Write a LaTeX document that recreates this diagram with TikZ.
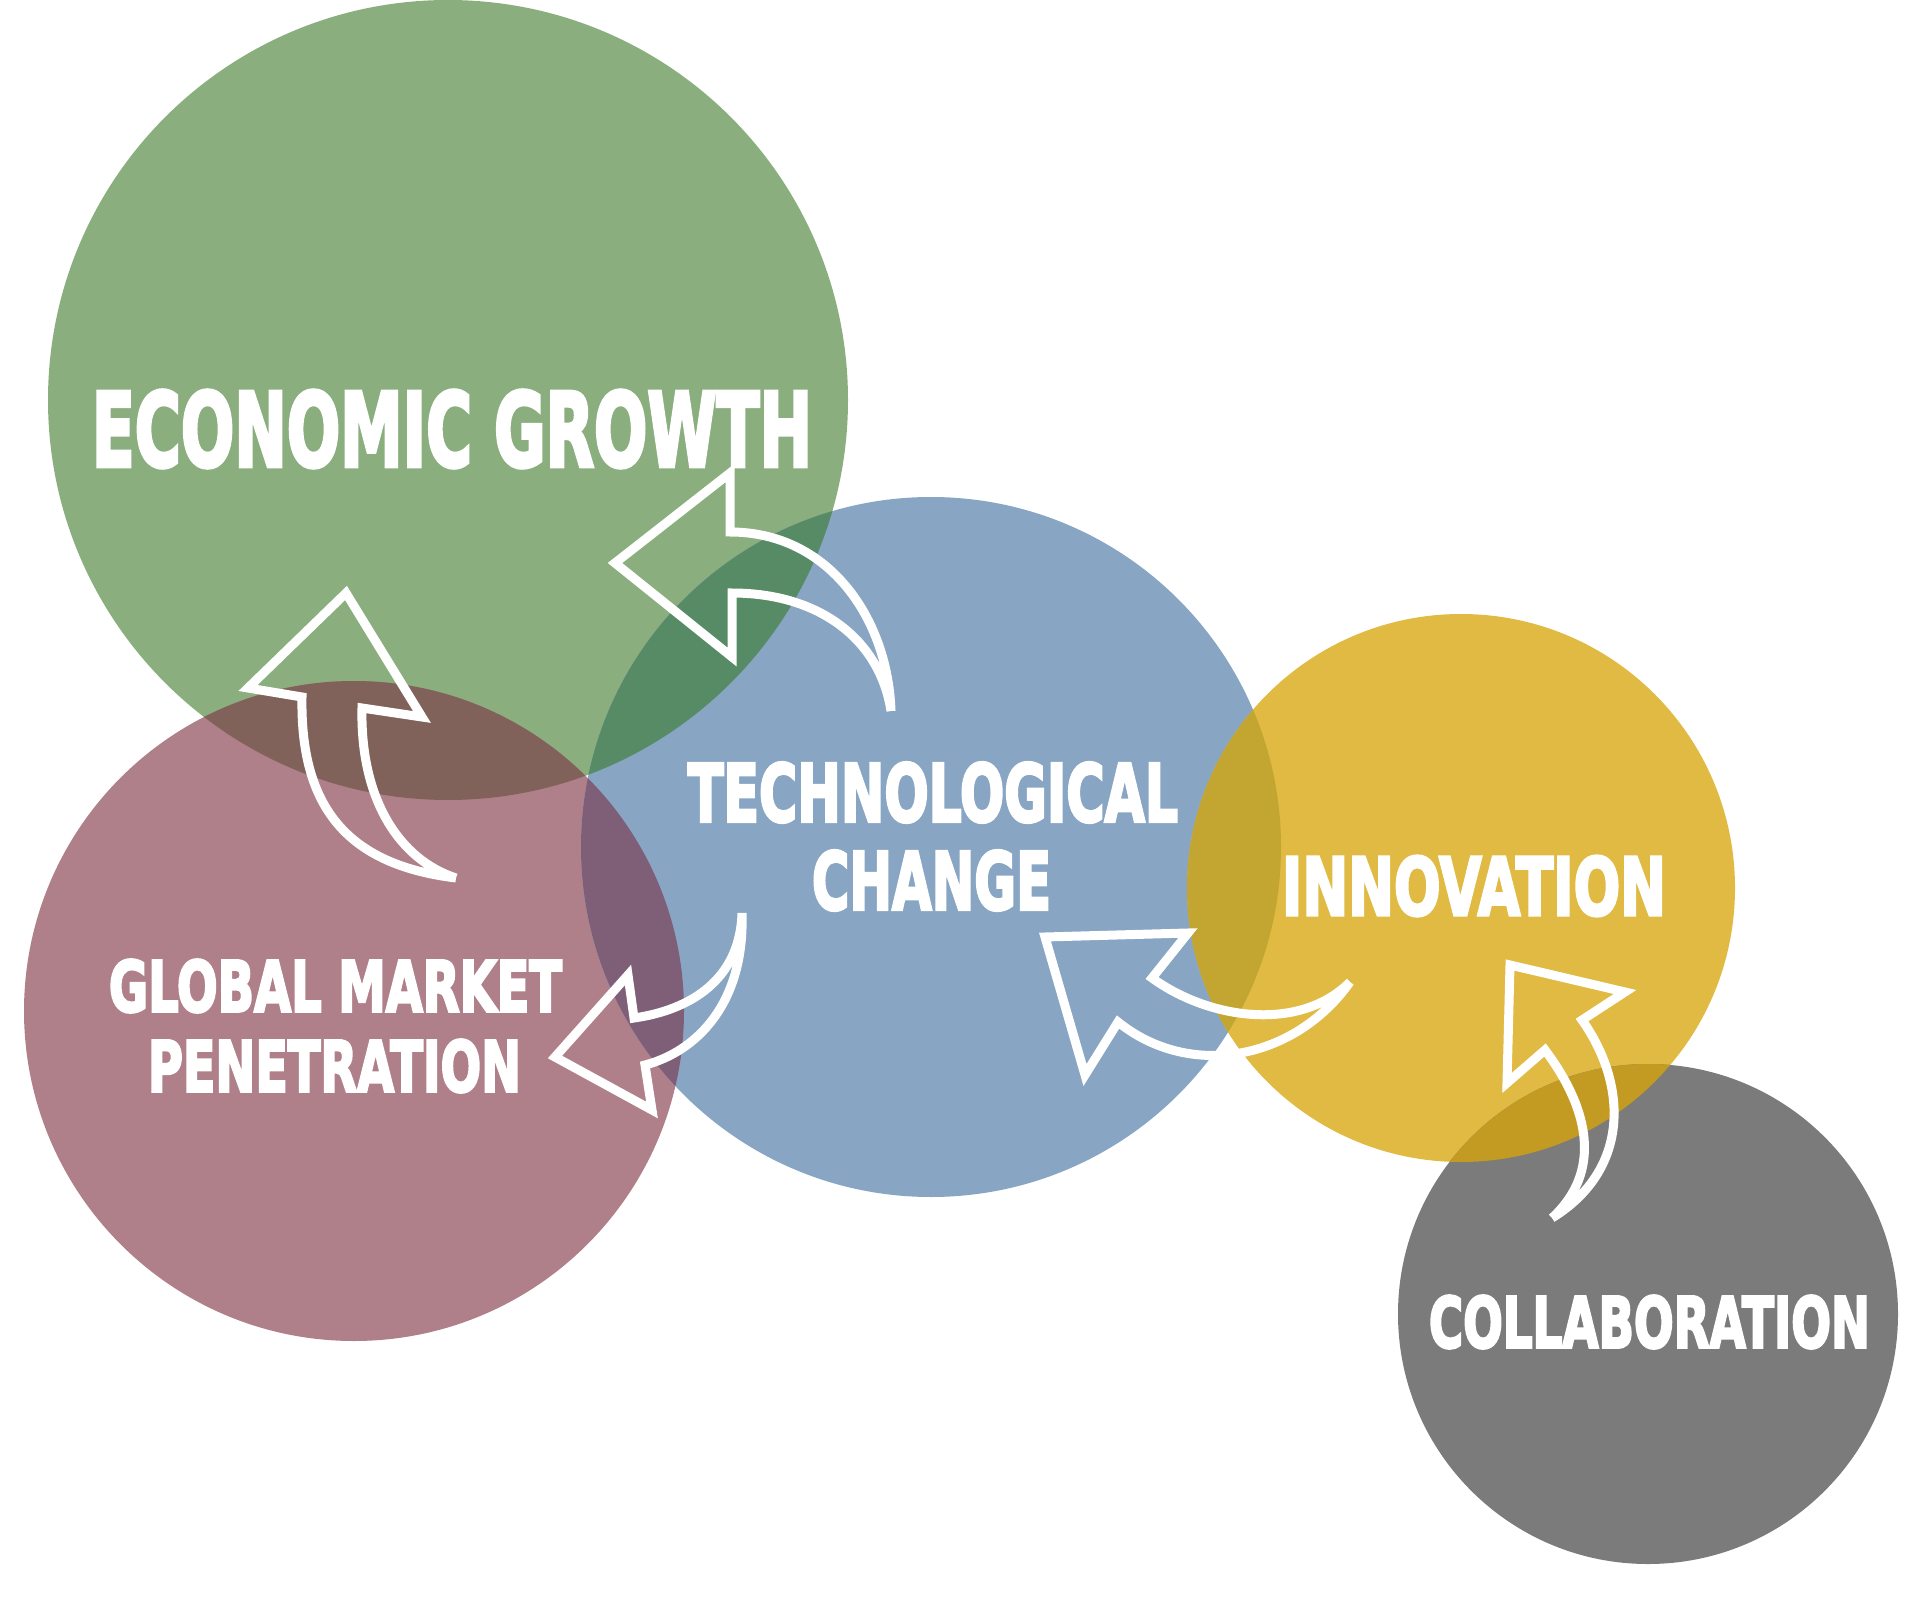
\documentclass[tikz,border=0pt]{standalone}
\usepackage{fontspec}
\usepackage{graphicx}
\setmainfont{DejaVu Sans}[BoldFeatures={FakeBold=4}]
\definecolor{cgreen}{HTML}{8AAE7E}
\definecolor{cpink}{HTML}{B0808A}
\definecolor{cblue}{HTML}{88A5C3}
\definecolor{cyellow}{HTML}{E0BA42}
\definecolor{cgray}{HTML}{7B7B7B}
\definecolor{cgb}{HTML}{568B65}
\definecolor{cgp}{HTML}{80625A}
\definecolor{cpb}{HTML}{7F5E77}
\definecolor{cby}{HTML}{C3A632}
\definecolor{cyg}{HTML}{C39A22}
\definecolor{cgpb}{HTML}{5E5256}
\tikzset{
  arrowline/.style={draw=white, line width=9pt, line join=miter, miter limit=10, line cap=butt},
  lbl/.style={text=white, inner sep=0pt, anchor=center},
}
\newcommand{\lbltext}[3]{\resizebox{#1pt}{#2pt}{\bfseries #3}}
\begin{document}
\begin{tikzpicture}[x=1pt,y=-1pt]
\useasboundingbox (0,0) rectangle (1920,1597);
% circles
\fill[cgreen]  (448,400) circle[radius=400];
\fill[cpink]   (354,1011) circle[radius=330];
\fill[cblue]   (931,847) circle[radius=350];
\fill[cyellow] (1461,888) circle[radius=274];
\fill[cgray]   (1648,1314) circle[radius=250];
% overlaps
\begin{scope}
  \clip (448,400) circle[radius=400];
  \fill[cgb] (931,847) circle[radius=350];
  \fill[cgp] (354,1011) circle[radius=330];
\end{scope}
\begin{scope}
  \clip (354,1011) circle[radius=330];
  \fill[cpb] (931,847) circle[radius=350];
\end{scope}
\begin{scope}
  \clip (448,400) circle[radius=400];
  \clip (354,1011) circle[radius=330];
  \fill[cgpb] (931,847) circle[radius=350];
\end{scope}
\begin{scope}
  \clip (931,847) circle[radius=350];
  \fill[cby] (1461,888) circle[radius=274];
\end{scope}
\begin{scope}
  \clip (1461,888) circle[radius=274];
  \fill[cyg] (1648,1314) circle[radius=250];
\end{scope}
% arrows
% technological change -> economic growth
\draw[arrowline] (891,711) .. controls (888,620) and (830,532) .. (730,532)
  -- (730,473) -- (615,563) -- (732,657) -- (732,593)
  .. controls (820,593) and (880,640) .. (891,711);
% global market -> economic growth
\draw[arrowline] (456,878) .. controls (350,865) and (300,810) .. (302,697)
  -- (248,688) -- (346,593) -- (422,717) -- (362,708)
  .. controls (360,800) and (400,860) .. (456,878);
% technological change -> global market
\draw[arrowline] (742,913) .. controls (745,1005) and (695,1052) .. (645,1065)
  -- (652,1110) -- (555,1057) -- (628,975) -- (634,1018)
  .. controls (690,1010) and (740,980) .. (742,913);
% innovation -> technological change
\draw[arrowline] (1350,982) .. controls (1300,1032) and (1210,1020) .. (1152,978)
  -- (1188,933) -- (1045,937) -- (1085,1075) -- (1118,1022)
  .. controls (1190,1080) and (1295,1060) .. (1350,982);
% collaboration -> innovation
\draw[arrowline] (1552,1218) .. controls (1630,1170) and (1628,1085) .. (1582,1020)
  -- (1625,992) -- (1510,965) -- (1507,1083) -- (1545,1050)
  .. controls (1590,1110) and (1602,1172) .. (1552,1218);
% labels
\node[lbl] (eg)  at (452,429)    {\lbltext{720}{76}{ECONOMIC GROWTH}};
\node[lbl] (tc1) at (933,792.5)  {\lbltext{490}{59}{TECHNOLOGICAL}};
\node[lbl] (tc2) at (931.5,880.5){\lbltext{239}{59}{CHANGE}};
\node[lbl] (inn) at (1474,886)   {\lbltext{384}{59}{INNOVATION}};
\node[lbl] (gm1) at (335.5,986)  {\lbltext{453}{52}{GLOBAL MARKET}};
\node[lbl] (gm2) at (334.5,1066) {\lbltext{373}{52}{PENETRATION}};
\node[lbl] (col) at (1649.5,1322){\lbltext{441}{52}{COLLABORATION}};
\end{tikzpicture}
\end{document}
